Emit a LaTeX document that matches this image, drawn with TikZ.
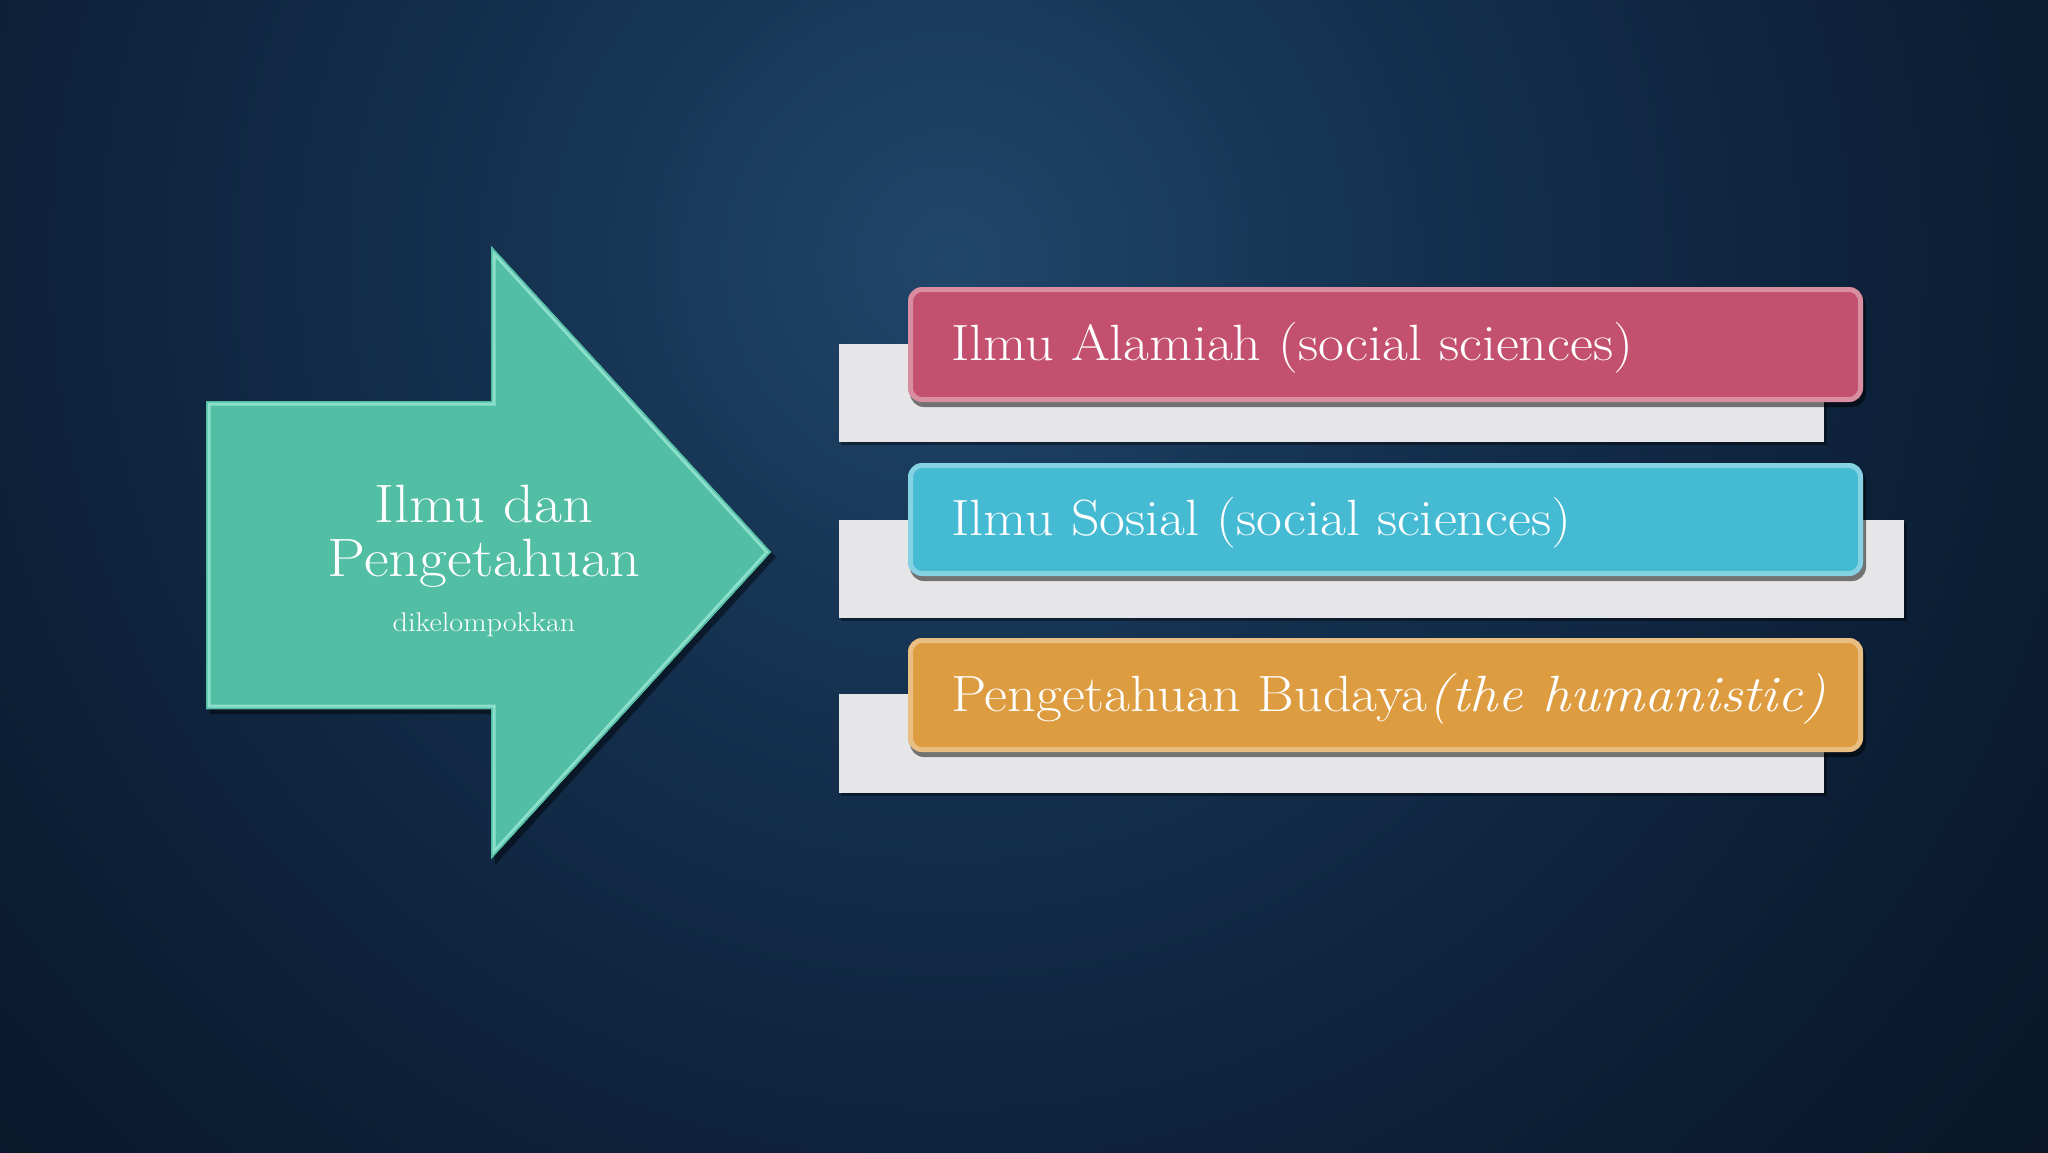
\documentclass[tikz,border=0pt]{standalone}
\usepackage{fontspec}
\newfontfamily\barfont[FakeStretch=1.1]{Latin Modern Roman}
\newfontfamily\leftfont[FakeStretch=1.12]{Latin Modern Roman}
\definecolor{tealA}{RGB}{82,190,164}
\definecolor{tealHi}{RGB}{165,238,220}
\definecolor{pinkbar}{RGB}{196,80,112}
\definecolor{bluebar}{RGB}{69,186,211}
\definecolor{orangebar}{RGB}{222,156,64}
\definecolor{greybox}{RGB}{230,230,232}
\definecolor{bgA}{RGB}{32,70,106}
\definecolor{bgB}{RGB}{20,48,78}
\definecolor{bgC}{RGB}{12,31,54}
\definecolor{bgD}{RGB}{7,19,34}
\definecolor{bgE}{RGB}{3,8,16}
\pgfdeclareradialshading{bgshade}{\pgfpoint{0bp}{0bp}}{color(0bp)=(bgA); color(8bp)=(bgB); color(17bp)=(bgC); color(27bp)=(bgD); color(50bp)=(bgE)}
\tikzset{
  bigtxt/.style={text=white, inner sep=0pt, font=\leftfont\fontsize{54}{60}\selectfont},
  subtxt/.style={text=white, inner sep=0pt, font=\leftfont\fontsize{27}{30}\selectfont},
  bartxt/.style={text=white, inner sep=0pt, font=\barfont\fontsize{51}{60}\selectfont, anchor=base west},
  greyfill/.style={fill=greybox},
  shadowfill/.style={fill=black, opacity=0.5},
  hilite/.style={draw=white, opacity=0.35, line width=10pt},
}
\begin{document}
\begin{tikzpicture}[x=1pt,y=-1pt]
\useasboundingbox (0,0) rectangle (2048,1152);
% background
\fill[bgE] (0,0) rectangle (2048,1152);
\begin{scope}
  \clip (0,0) rectangle (2048,1152);
  \shade[shading=bgshade] (950,260) circle (1500);
\end{scope}

% arrow
\fill[black, opacity=0.45] (210,406) -- (495,406) -- (495,252) -- (776,557) -- (495,865) -- (495,714) -- (210,714) -- cycle;
\fill[tealA] (206,401) -- (491,401) -- (491,246) -- (771,552) -- (491,859) -- (491,709) -- (206,709) -- cycle;
\begin{scope}
  \clip (206,401) -- (491,401) -- (491,246) -- (771,552) -- (491,859) -- (491,709) -- (206,709) -- cycle;
  \draw[tealHi, opacity=0.7, line width=9pt, line join=miter] (206,401) -- (491,401) -- (491,246) -- (771,552) -- (491,859) -- (491,709) -- (206,709) -- cycle;
  \draw[tealA, line width=3pt] (206,401) -- (491,401) -- (491,246) -- (771,552) -- (491,859) -- (491,709) -- (206,709) -- cycle;
\end{scope}
\node[bigtxt, anchor=base] (t1) at (484,522) {Ilmu dan};
\node[bigtxt, anchor=base] (t2) at (484,576) {Pengetahuan};
\node[subtxt, anchor=base] (t3) at (484,631) {dikelompokkan};

% grey boxes
\fill[black, opacity=0.4] (841,347) rectangle (1827,445);
\fill[greyfill] (839,344) rectangle (1824,442);
\fill[black, opacity=0.4] (841,523) rectangle (1907,621);
\fill[greyfill] (839,520) rectangle (1904,618);
\fill[black, opacity=0.4] (841,697) rectangle (1827,796);
\fill[greyfill] (839,694) rectangle (1824,793);

% bar 1
\fill[shadowfill, rounded corners=14pt] (910,292) rectangle (1866,407);
\fill[pinkbar, rounded corners=14pt] (908,287) rectangle (1863,402);
\begin{scope}
  \clip[rounded corners=14pt] (908,287) rectangle (1863,402);
  \draw[hilite, rounded corners=14pt] (908,287) rectangle (1863,402);
\end{scope}
\node[bartxt] (a1) at (951,360) {Ilmu Alamiah (social sciences)};

% bar 2
\fill[shadowfill, rounded corners=14pt] (910,468) rectangle (1866,581);
\fill[bluebar, rounded corners=14pt] (908,463) rectangle (1863,576);
\begin{scope}
  \clip[rounded corners=14pt] (908,463) rectangle (1863,576);
  \draw[hilite, rounded corners=14pt] (908,463) rectangle (1863,576);
\end{scope}
\node[bartxt] (a2) at (951,535) {Ilmu Sosial (social sciences)};

% bar 3
\fill[shadowfill, rounded corners=14pt] (910,643) rectangle (1866,757);
\fill[orangebar, rounded corners=14pt] (908,638) rectangle (1863,752);
\begin{scope}
  \clip[rounded corners=14pt] (908,638) rectangle (1863,752);
  \draw[hilite, rounded corners=14pt] (908,638) rectangle (1863,752);
\end{scope}
\node[bartxt] (a3) at (951,711) {Pengetahuan Budaya\kern1pt\textit{(the humanistic)}};
\end{tikzpicture}
\end{document}
